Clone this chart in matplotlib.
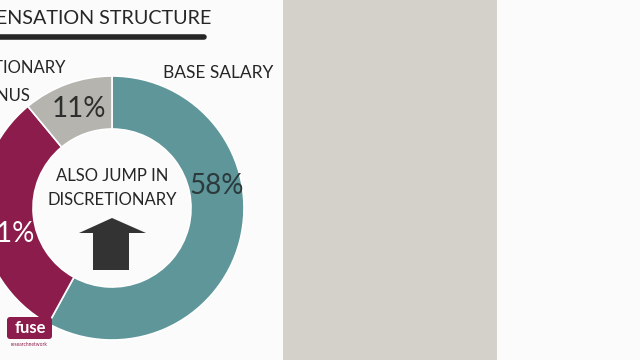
import matplotlib.pyplot as plt
from matplotlib.patches import FancyBboxPatch, Rectangle, Polygon

# data
parts = ["BASE SALARY", "DISCRETIONARY\nBONUS", "OTHER"]
shares = [58, 31, 11]
colors = ["#5f969a", "#8c1c4b", "#b5b4ae"]

H = 360  # pixel height, used to flip y so layout can be written in image pixels
FONT = ["Lato", "DejaVu Sans"]
INK = "#262626"


def py(y):
    return H - y


def main():
    fig = plt.figure(figsize=(6.4, 3.6), dpi=100, facecolor="#fbfbfb")
    ax = fig.add_axes([0, 0, 1, 1])
    ax.set_facecolor("#fbfbfb")

    # donut
    ax.pie(shares, colors=colors, startangle=90, counterclock=False,
           center=(112, py(208)), radius=132,
           wedgeprops=dict(width=53, edgecolor="white", linewidth=1.2))
    ax.set_xlim(0, 640)
    ax.set_ylim(0, H)
    ax.set_aspect("equal")
    ax.axis("off")

    # grey panel on the right
    ax.add_patch(Rectangle((283, 0), 214, H, facecolor="#d4d1cb", edgecolor="none"))

    # title (cut off at the left edge) and its underline
    ax.text(211, py(18), "COMPENSATION STRUCTURE", ha="right", va="center",
            fontsize=14.2, color=INK, family=FONT)
    ax.plot([-10, 204], [py(37), py(37)], color=INK, lw=4, solid_capstyle="round")

    # slice names
    ax.text(218, py(73), parts[0], ha="center", va="center", fontsize=12.5,
            color=INK, family=FONT)
    ax.text(1, py(82), parts[1], ha="center", va="center", fontsize=12,
            color=INK, family=FONT, linespacing=1.85)

    # percentages
    ax.text(217, py(186), f"{shares[0]}%", ha="center", va="center",
            fontsize=20, color="#2b3a3c", family=FONT)
    ax.text(35, py(234), f"{shares[1]}%", ha="right", va="center",
            fontsize=20, color="white", family=FONT)
    ax.text(79, py(109), f"{shares[2]}%", ha="center", va="center",
            fontsize=20, color="#2e2e2e", family=FONT)

    # centre note with arrow
    ax.text(112, py(188), "ALSO JUMP IN\nDISCRETIONARY", ha="center", va="center",
            fontsize=12, color=INK, family=FONT, linespacing=1.56)
    arrow = [(112, 218), (146, 233), (129, 233), (129, 270),
             (93, 270), (93, 233), (79, 233)]
    ax.add_patch(Polygon([(x, py(y)) for x, y in arrow], closed=True,
                         facecolor="#333333", edgecolor="none"))

    # logo
    ax.add_patch(FancyBboxPatch((7, py(339)), 45, 22,
                                boxstyle="round,pad=0,rounding_size=3",
                                facecolor="#8c1c4b", edgecolor="none"))
    ax.text(30, py(328), "fuse", ha="center", va="center", fontsize=12,
            color="white", weight="bold", family=FONT)
    ax.text(29, py(344), "researchnetwork", ha="center", va="center",
            fontsize=3.5, color="#8c1c4b", family=FONT)

    fig.savefig("out.png", dpi=100, facecolor=fig.get_facecolor())
    plt.close(fig)


if __name__ == "__main__":
    main()
